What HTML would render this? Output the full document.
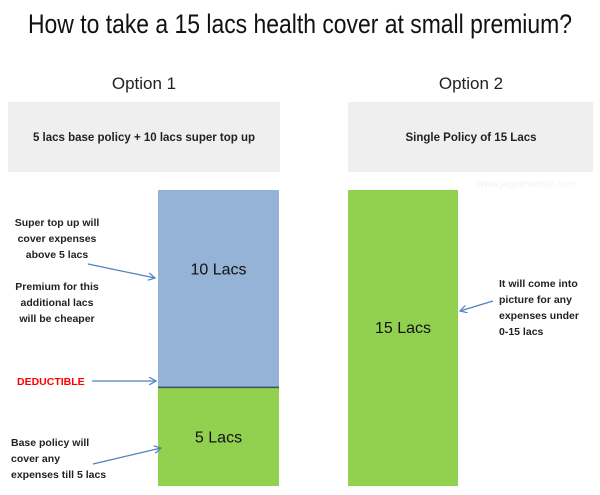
<!DOCTYPE html>
<html><head><meta charset="utf-8">
<style>
body{margin:0;background:#fff;width:600px;height:490px;overflow:hidden;font-family:"Liberation Sans",sans-serif;}
svg text{font-family:"Liberation Sans",sans-serif;}
</style></head>
<body>
<svg id="chart" width="600" height="490" viewBox="0 0 600 490">
<defs>
<marker id="ah" markerWidth="8" markerHeight="8" refX="7" refY="4" orient="auto" markerUnits="userSpaceOnUse">
<path d="M0,0 L7,4 L0,8" fill="none" stroke="#4f81bd" stroke-width="1.2"/>
</marker>
</defs>
<text x="300" y="33" text-anchor="middle" font-size="27" fill="#111" style="font-family:'Liberation Sans Narrow','Liberation Sans',sans-serif" textLength="544" lengthAdjust="spacingAndGlyphs">How to take a 15 lacs health cover at small premium?</text>
<text x="144" y="89" text-anchor="middle" font-size="17" fill="#222">Option 1</text>
<text x="471" y="89" text-anchor="middle" font-size="17" fill="#222">Option 2</text>
<rect x="8" y="102" width="272" height="70" fill="#efefef"/>
<rect x="348" y="102" width="245" height="70" fill="#efefef"/>
<text x="144" y="141" text-anchor="middle" font-size="11.5" font-weight="bold" fill="#222">5 lacs base policy + 10 lacs super top up</text>
<text x="471" y="141" text-anchor="middle" font-size="11.5" font-weight="bold" fill="#222">Single Policy of 15 Lacs</text>
<text x="526" y="187" text-anchor="middle" font-size="10" fill="#f3f3f3">www.jagoinvestor.com</text>
<g id="bars"></g>
<g font-size="10.5" font-weight="bold" fill="#222">
<text x="57" y="226" text-anchor="middle"><tspan x="57">Super top up will</tspan><tspan x="57" dy="16">cover expenses</tspan><tspan x="57" dy="16">above 5 lacs</tspan></text>
<text x="57" y="290" text-anchor="middle"><tspan x="57">Premium for this</tspan><tspan x="57" dy="16">additional lacs</tspan><tspan x="57" dy="16">will be cheaper</tspan></text>
<text x="17" y="385" fill="#ff0000">DEDUCTIBLE</text>
<text x="11" y="446"><tspan x="11">Base policy will</tspan><tspan x="11" dy="16">cover any</tspan><tspan x="11" dy="16">expenses till 5 lacs</tspan></text>
<text x="499" y="287"><tspan x="499">It will come into</tspan><tspan x="499" dy="16">picture for any</tspan><tspan x="499" dy="16">expenses under</tspan><tspan x="499" dy="16">0-15 lacs</tspan></text>
</g>
<g stroke="#4f81bd" stroke-width="1.2" fill="none">
<line x1="88" y1="264" x2="155" y2="278" marker-end="url(#ah)"/>
<line x1="92" y1="381" x2="156" y2="381" marker-end="url(#ah)"/>
<line x1="93" y1="464" x2="161" y2="448" marker-end="url(#ah)"/>
<line x1="493" y1="301" x2="460" y2="311" marker-end="url(#ah)"/>
</g>
</svg>
<script>
const segmentLabels = ["5 Lacs", "10 Lacs"];
const option1Values = [5, 10];
const option2Values = [15];
const option2Labels = ["15 Lacs"];
const maxValue = 15;

const yTop = 190, yBottom = 486;
function y(v){ return yBottom - (v / maxValue) * (yBottom - yTop); }
const g = document.getElementById('bars');
const NS = 'http://www.w3.org/2000/svg';
const colors1 = ['#92d050', '#95b3d7'];
const labelShift = [0, -20];

let cum = 0;
option1Values.forEach((v, i) => {
  const r = document.createElementNS(NS, 'rect');
  r.setAttribute('x', 158); r.setAttribute('width', 121);
  r.setAttribute('y', y(cum + v)); r.setAttribute('height', y(cum) - y(cum + v));
  r.setAttribute('fill', colors1[i]);
  
  
  g.appendChild(r);
  const t = document.createElementNS(NS, 'text');
  t.setAttribute('x', 218.5); t.setAttribute('y', (y(cum) + y(cum + v)) / 2 + 6 + labelShift[i]);
  t.setAttribute('text-anchor', 'middle'); t.setAttribute('font-size', '16'); t.setAttribute('fill', '#111');
  t.textContent = segmentLabels[i];
  
  
  g.appendChild(t);
  cum += v;
});
const divider = document.createElementNS(NS, 'line');
divider.setAttribute('x1', 158); divider.setAttribute('x2', 279);
divider.setAttribute('y1', y(option1Values[0])); divider.setAttribute('y2', y(option1Values[0]));
divider.setAttribute('stroke', '#3d4f5f'); divider.setAttribute('stroke-width', '1.5');


g.appendChild(divider);

option2Values.forEach((v, i) => {
  const r = document.createElementNS(NS, 'rect');
  r.setAttribute('x', 348); r.setAttribute('width', 110);
  r.setAttribute('y', y(v)); r.setAttribute('height', y(0) - y(v));
  r.setAttribute('fill', '#92d050');
  
  
  g.appendChild(r);
  const t = document.createElementNS(NS, 'text');
  t.setAttribute('x', 403); t.setAttribute('y', 333);
  t.setAttribute('text-anchor', 'middle'); t.setAttribute('font-size', '16'); t.setAttribute('fill', '#111');
  t.textContent = option2Labels[i];
  
  
  g.appendChild(t);
});
</script>
</body></html>
